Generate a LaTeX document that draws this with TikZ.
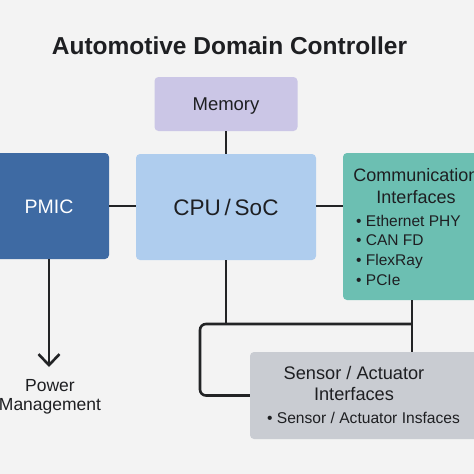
\documentclass[tikz,border=0pt]{standalone}
\usepackage{fontspec}
\setmainfont{Liberation Sans}
\usepackage{tikz}
\usetikzlibrary{arrows.meta,calc}

\definecolor{bgcol}{HTML}{F3F3F3}
\definecolor{txtcol}{HTML}{1E1F22}
\definecolor{linecol}{HTML}{222325}
\definecolor{memcol}{HTML}{CBC6E6}
\definecolor{pmiccol}{HTML}{3E6AA3}
\definecolor{cpucol}{HTML}{AFCDEE}
\definecolor{commcol}{HTML}{6CBFB2}
\definecolor{senscol}{HTML}{C9CCD2}

\tikzset{
  box/.style={rounded corners=4pt, inner sep=0pt, text=txtcol, text depth=0pt},
  label/.style={anchor=base, inner sep=0pt, text=txtcol},
  link/.style={draw=linecol, line width=2.6pt},
}

\begin{document}
\begin{tikzpicture}[x=1pt,y=-1pt]
     \useasboundingbox (0,0) rectangle (474,474);
     \fill[bgcol] (0,0) rectangle (474,474);
     \clip (0,0) rectangle (474,474);
     %标题
     \node[label, font=\bfseries\fontsize{24.5}{30}\selectfont] (title) at (229.5,54) {Automotive Domain Controller};

     %方框
     \node[box, fill=memcol, minimum width=143pt, minimum height=54pt, text height=13.2pt,
       font=\fontsize{18.5}{22}\selectfont] (memory) at (226,104) {Memory};
     \node[box, fill=pmiccol, text=white, minimum width=120pt, minimum height=106pt, text height=14pt,
       font=\fontsize{19.5}{22}\selectfont] (pmic) at (49,206) {PMIC};
     \node[box, fill=cpucol, minimum width=180pt, minimum height=106pt, text height=16.1pt,
       font=\fontsize{22.5}{26}\selectfont] (cpu) at (226,207) {CPU\,/\,SoC};
     \node[box, fill=commcol, minimum width=147pt, minimum height=147pt] (comm) at (416.5,226.5) {};
     \node[box, fill=senscol, minimum width=245pt, minimum height=87pt] (sensor) at (372.5,395.5) {};

     %文字
     \node[label, font=\fontsize{18}{21}\selectfont] (commhead) at (416,181) {Communication};
     \node[label, font=\fontsize{18}{21}\selectfont] (commhead2) at (416,203) {Interfaces};
     \foreach \y/\item [count=\i] in {226/Ethernet PHY,245.7/CAN FD,265.3/FlexRay,285/PCIe} {
     	\node[label, anchor=base west, font=\fontsize{15.5}{18}\selectfont] (bullet\i) at (356,\y) {\textbullet\ \item};
     }
     \node[label, font=\fontsize{18.2}{21}\selectfont] (senshead) at (354,379) {Sensor / Actuator};
     \node[label, font=\fontsize{18.2}{21}\selectfont] (senshead2) at (354,400) {Interfaces};
     \node[label, font=\fontsize{15.6}{18}\selectfont] (sensitem) at (363.5,423.5) {\textbullet\ Sensor / Actuator Insfaces};
     \node[label, font=\fontsize{17.5}{20}\selectfont] (power) at (50,391) {Power};
     \node[label, font=\fontsize{17.5}{20}\selectfont] (power2) at (50,410.5) {Management};

     %连线
     \coordinate (pwrend) at (49,367);
     \coordinate (busL) at (200,324);
     \coordinate (commout) at ([xshift=-4.5pt]comm.south);
     \draw[link] (memory.south) -- (cpu.north);
     \draw[link] (pmic.east) -- (pmic.east -| cpu.west);
     \draw[link] (cpu.east |- pmic.east) -- (cpu.east |- pmic.east -| comm.west);
     \draw[link, -{Straight Barb[length=11pt,width=21pt]}] (pmic.south) -- (pwrend);
     \draw[link] (cpu.south) -- (cpu.south |- busL);
     \draw[link] (commout) -- (commout |- sensor.north);
     \draw[link, rounded corners=6pt] (commout |- busL) -- (busL) -- (busL |- sensor.west) -- (sensor.west);
\end{tikzpicture}
\end{document}
